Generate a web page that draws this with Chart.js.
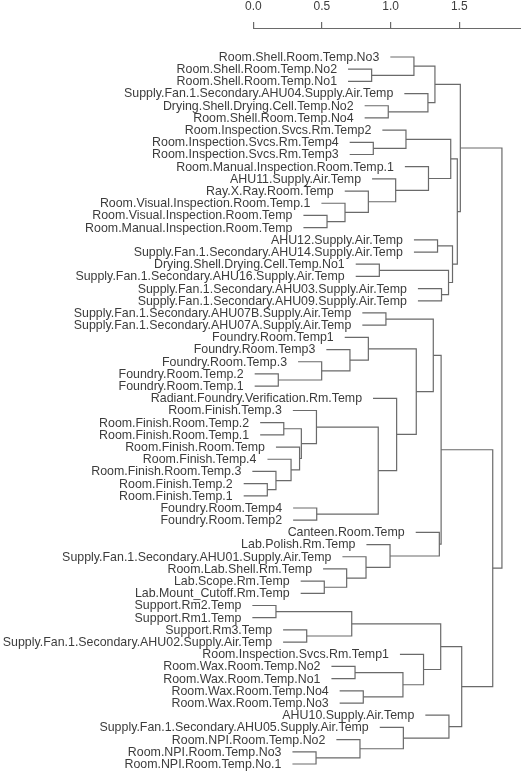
<!DOCTYPE html>
<html>
<head>
<meta charset="utf-8">
<script src="https://cdn.jsdelivr.net/npm/chart.js@4.4.1/dist/chart.umd.min.js"></script>
<style>
  html, body { margin: 0; padding: 0; background: #fff; }
  #wrap { width: 525px; height: 773px; }
</style>
</head>
<body>
<div id="wrap"><canvas id="dendro"></canvas></div>
<script>
// leaves, top to bottom
var leafLabels = [
  'Room.Shell.Room.Temp.No3',
  'Room.Shell.Room.Temp.No2',
  'Room.Shell.Room.Temp.No1',
  'Supply.Fan.1.Secondary.AHU04.Supply.Air.Temp',
  'Drying.Shell.Drying.Cell.Temp.No2',
  'Room.Shell.Room.Temp.No4',
  'Room.Inspection.Svcs.Rm.Temp2',
  'Room.Inspection.Svcs.Rm.Temp4',
  'Room.Inspection.Svcs.Rm.Temp3',
  'Room.Manual.Inspection.Room.Temp.1',
  'AHU11.Supply.Air.Temp',
  'Ray.X.Ray.Room.Temp',
  'Room.Visual.Inspection.Room.Temp.1',
  'Room.Visual.Inspection.Room.Temp',
  'Room.Manual.Inspection.Room.Temp',
  'AHU12.Supply.Air.Temp',
  'Supply.Fan.1.Secondary.AHU14.Supply.Air.Temp',
  'Drying.Shell.Drying.Cell.Temp.No1',
  'Supply.Fan.1.Secondary.AHU16.Supply.Air.Temp',
  'Supply.Fan.1.Secondary.AHU03.Supply.Air.Temp',
  'Supply.Fan.1.Secondary.AHU09.Supply.Air.Temp',
  'Supply.Fan.1.Secondary.AHU07B.Supply.Air.Temp',
  'Supply.Fan.1.Secondary.AHU07A.Supply.Air.Temp',
  'Foundry.Room.Temp1',
  'Foundry.Room.Temp3',
  'Foundry.Room.Temp.3',
  'Foundry.Room.Temp.2',
  'Foundry.Room.Temp.1',
  'Radiant.Foundry.Verification.Rm.Temp',
  'Room.Finish.Temp.3',
  'Room.Finish.Room.Temp.2',
  'Room.Finish.Room.Temp.1',
  'Room.Finish.Room.Temp',
  'Room.Finish.Temp.4',
  'Room.Finish.Room.Temp.3',
  'Room.Finish.Temp.2',
  'Room.Finish.Temp.1',
  'Foundry.Room.Temp4',
  'Foundry.Room.Temp2',
  'Canteen.Room.Temp',
  'Lab.Polish.Rm.Temp',
  'Supply.Fan.1.Secondary.AHU01.Supply.Air.Temp',
  'Room.Lab.Shell.Rm.Temp',
  'Lab.Scope.Rm.Temp',
  'Lab.Mount_Cutoff.Rm.Temp',
  'Support.Rm2.Temp',
  'Support.Rm1.Temp',
  'Support.Rm3.Temp',
  'Supply.Fan.1.Secondary.AHU02.Supply.Air.Temp',
  'Room.Inspection.Svcs.Rm.Temp1',
  'Room.Wax.Room.Temp.No2',
  'Room.Wax.Room.Temp.No1',
  'Room.Wax.Room.Temp.No4',
  'Room.Wax.Room.Temp.No3',
  'AHU10.Supply.Air.Temp',
  'Supply.Fan.1.Secondary.AHU05.Supply.Air.Temp',
  'Room.NPI.Room.Temp.No2',
  'Room.NPI.Room.Temp.No3',
  'Room.NPI.Room.Temp.No.1'
];

// merges like R's hclust: negative = leaf number (1-based), positive = earlier merge row
var mergeLeft = [
  -36, -46, -35, -27, -31, -34, -33, 5, -48, -58,
  -30, -38, -26, -44, -14, -13, -43, -25, 2, -51,
  -57, -53, -42, -12, -24, -2, -8, 11, -18, -22,
  -5, -41, -11, -29, 20, -56, -7, -1, 25, -50,
  -4, -10, 30, 38, -16, -40, 19, 43, -20, 29,
  -55, 37, 45, 52, 44, 47, 48, 55
];
var mergeRight = [
  -37, -47, 1, -28, -32, 3, 6, 7, -49, -59,
  8, -39, 4, -45, -15, 15, 14, 13, 9, -52,
  10, -54, 17, 16, 18, -3, -9, 12, -19, -23,
  -6, 23, 24, 28, 22, 21, 27, 26, 34, 35,
  31, 33, 39, 41, -17, 32, 40, 46, -21, 49,
  36, 42, 50, 53, 54, 51, 56, 57
];
var mergeHeight = [
  0.102, 0.165, 0.165, 0.182, 0.222, 0.275, 0.337, 0.350, 0.389, 0.457,
  0.460, 0.462, 0.498, 0.517, 0.537, 0.668, 0.680, 0.704, 0.717, 0.741,
  0.777, 0.801, 0.821, 0.838, 0.838, 0.862, 0.874, 0.910, 0.918, 0.966,
  0.983, 0.996, 1.037, 1.044, 1.090, 1.093, 1.112, 1.170, 1.187, 1.240,
  1.272, 1.276, 1.311, 1.323, 1.342, 1.355, 1.365, 1.368, 1.371, 1.422,
  1.425, 1.438, 1.451, 1.486, 1.508, 1.518, 1.744, 1.811
];

var tickValues = [0, 0.5, 1.0, 1.5];
var hang = 0.172;
var axisEnd = 1.95;

var lineColor = '#6a6a6a';
var textColor = '#3c3c3c';
var fontFamily = '"Liberation Sans", Arial, Helvetica, sans-serif';

// build one 4-point polyline per merge
var nodeY = [];
var leafStart = [];
var datasets = [];

function childPoint(id, parentH) {
  if (id < 0) {
    var i = -id - 1;
    leafStart[i] = parentH - hang;
    return { x: parentH - hang, y: i };
  }
  return { x: mergeHeight[id - 1], y: nodeY[id - 1] };
}

for (var k = 0; k < mergeHeight.length; k++) {
  var h = mergeHeight[k];
  var a = childPoint(mergeLeft[k], h);
  var b = childPoint(mergeRight[k], h);
  nodeY[k] = (a.y + b.y) / 2;
  datasets.push({
    data: [{ x: a.x, y: a.y }, { x: h, y: a.y }, { x: h, y: b.y }, { x: b.x, y: b.y }],
    showLine: true,
    borderColor: lineColor,
    borderWidth: 1.2,
    pointRadius: 0,
    fill: false,
    tension: 0
  });
}

var leafLabelPlugin = {
  id: 'leafLabels',
  afterDatasetsDraw: function (chart) {
    var ctx = chart.ctx;
    var xs = chart.scales.x;
    var ys = chart.scales.y;
    ctx.save();
    ctx.font = '12.4px ' + fontFamily;
    ctx.fillStyle = textColor;
    ctx.textAlign = 'right';
    ctx.textBaseline = 'middle';
    leafLabels.forEach(function (name, i) {
      ctx.fillText(name, xs.getPixelForValue(leafStart[i]) - 11, ys.getPixelForValue(i) + 0.5);
    });
    // axis line only from 0 onwards
    var yLine = Math.round(xs.bottom) - 0.5;
    ctx.strokeStyle = lineColor;
    ctx.lineWidth = 1.2;
    ctx.beginPath();
    ctx.moveTo(xs.getPixelForValue(0), yLine);
    ctx.lineTo(xs.getPixelForValue(axisEnd), yLine);
    ctx.stroke();
    ctx.restore();
  }
};

var ctx = document.getElementById('dendro').getContext('2d');
var dendroChart = new Chart(ctx, {
  type: 'scatter',
  data: { datasets: datasets },
  plugins: [leafLabelPlugin],
  options: {
    responsive: true,
    maintainAspectRatio: false,
    animation: false,
    layout: { padding: { top: -8.4, left: 0, right: 0, bottom: 0 } },
    plugins: {
      legend: { display: false },
      tooltip: { enabled: false }
    },
    scales: {
      x: {
        type: 'linear',
        position: 'top',
        min: -1.845,
        max: 1.979,
        afterBuildTicks: function (scale) {
          scale.ticks = tickValues.map(function (v) { return { value: v }; });
        },
        ticks: {
          padding: 8,
          color: textColor,
          font: { size: 12, family: fontFamily },
          maxRotation: 0,
          callback: function (v) { return Number(v).toFixed(1); }
        },
        grid: {
          drawOnChartArea: false,
          drawTicks: true,
          tickLength: 7,
          color: lineColor,
          lineWidth: 1.2
        },
        border: { display: false }
      },
      y: {
        type: 'linear',
        display: false,
        reverse: true,
        min: -2.297,
        max: 58.74
      }
    }
  }
});
</script>
</body>
</html>
